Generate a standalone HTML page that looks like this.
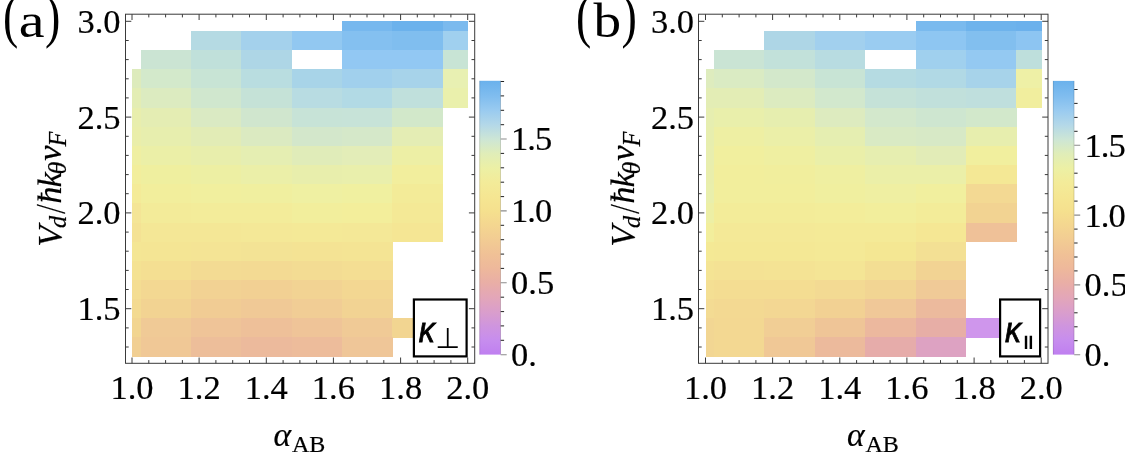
<!DOCTYPE html>
<html><head><meta charset="utf-8"><title>Figure</title>
<style>html,body{margin:0;padding:0;background:#fff}svg{display:block}text{font-family:"Liberation Serif","DejaVu Serif",serif;fill:#000}.tw{stroke:#000;stroke-width:0.2px}.it{font-style:italic}.sans{font-family:"DejaVu Sans","Liberation Sans",sans-serif}</style>
</head><body>
<svg width="1125" height="454" viewBox="0 0 1125 454">
<defs><linearGradient id="cb" x1="0" y1="1" x2="0" y2="0">
<stop offset="0.0000" stop-color="rgb(191,127,240)"/>
<stop offset="0.0524" stop-color="rgb(199,141,238)"/>
<stop offset="0.1048" stop-color="rgb(207,149,222)"/>
<stop offset="0.1572" stop-color="rgb(218,158,203)"/>
<stop offset="0.2096" stop-color="rgb(227,166,184)"/>
<stop offset="0.2621" stop-color="rgb(233,174,166)"/>
<stop offset="0.3145" stop-color="rgb(238,184,155)"/>
<stop offset="0.3669" stop-color="rgb(240,193,150)"/>
<stop offset="0.4193" stop-color="rgb(242,204,147)"/>
<stop offset="0.4717" stop-color="rgb(244,214,144)"/>
<stop offset="0.5241" stop-color="rgb(245,224,142)"/>
<stop offset="0.5765" stop-color="rgb(245,230,146)"/>
<stop offset="0.6289" stop-color="rgb(243,235,153)"/>
<stop offset="0.6813" stop-color="rgb(236,240,165)"/>
<stop offset="0.7338" stop-color="rgb(224,237,184)"/>
<stop offset="0.7862" stop-color="rgb(205,230,213)"/>
<stop offset="0.8386" stop-color="rgb(180,216,232)"/>
<stop offset="0.8910" stop-color="rgb(154,203,240)"/>
<stop offset="0.9434" stop-color="rgb(128,189,239)"/>
<stop offset="1.0000" stop-color="rgb(106,177,236)"/>
</linearGradient></defs>
<rect x="0" y="0" width="1125" height="454" fill="#fff"/>
<g transform="translate(0.0,0)">
<g shape-rendering="crispEdges">
<rect x="342.0" y="21.3" width="50.6" height="9.9" fill="#77B8EE"/>
<rect x="392.3" y="21.3" width="50.7" height="9.9" fill="#6CB2EC"/>
<rect x="442.7" y="21.3" width="25.5" height="9.9" fill="#7BBAEE"/>
<rect x="190.9" y="30.9" width="50.7" height="19.5" fill="#B5DAE3"/>
<rect x="241.3" y="30.9" width="50.6" height="19.5" fill="#A4D1EC"/>
<rect x="291.6" y="30.9" width="50.7" height="19.5" fill="#92C8F1"/>
<rect x="342.0" y="30.9" width="50.6" height="19.5" fill="#84C0F0"/>
<rect x="392.3" y="30.9" width="50.7" height="19.5" fill="#80BEEF"/>
<rect x="442.7" y="30.9" width="25.5" height="19.5" fill="#A0D0EF"/>
<rect x="140.8" y="50.0" width="50.4" height="19.5" fill="#CBE4D3"/>
<rect x="190.9" y="50.0" width="50.7" height="19.5" fill="#C0E0DA"/>
<rect x="241.3" y="50.0" width="50.6" height="19.5" fill="#AED6E6"/>
<rect x="342.0" y="50.0" width="50.6" height="19.5" fill="#92C8F3"/>
<rect x="392.3" y="50.0" width="50.7" height="19.5" fill="#92C8F3"/>
<rect x="442.7" y="50.0" width="25.5" height="19.5" fill="#C8E4D5"/>
<rect x="132.0" y="69.2" width="9.1" height="19.5" fill="#DDEBBC"/>
<rect x="140.8" y="69.2" width="50.4" height="19.5" fill="#D3E9CB"/>
<rect x="190.9" y="69.2" width="50.7" height="19.5" fill="#C8E4D5"/>
<rect x="241.3" y="69.2" width="50.6" height="19.5" fill="#B9DDE0"/>
<rect x="291.6" y="69.2" width="50.7" height="19.5" fill="#A8D4E8"/>
<rect x="342.0" y="69.2" width="50.6" height="19.5" fill="#A1D0ED"/>
<rect x="392.3" y="69.2" width="50.7" height="19.5" fill="#A7D3EA"/>
<rect x="442.7" y="69.2" width="25.5" height="19.5" fill="#E8F0B2"/>
<rect x="132.0" y="88.4" width="9.1" height="19.5" fill="#E3EDB4"/>
<rect x="140.8" y="88.4" width="50.4" height="19.5" fill="#DCEBC0"/>
<rect x="190.9" y="88.4" width="50.7" height="19.5" fill="#D0E7CE"/>
<rect x="241.3" y="88.4" width="50.6" height="19.5" fill="#C5E2D7"/>
<rect x="291.6" y="88.4" width="50.7" height="19.5" fill="#B8DCE2"/>
<rect x="342.0" y="88.4" width="50.6" height="19.5" fill="#B2DAE5"/>
<rect x="392.3" y="88.4" width="50.7" height="19.5" fill="#C0E0DC"/>
<rect x="442.7" y="88.4" width="25.5" height="19.5" fill="#EAF0AC"/>
<rect x="132.0" y="107.5" width="9.1" height="19.5" fill="#E8EEAD"/>
<rect x="140.8" y="107.5" width="50.4" height="19.5" fill="#E4EDB3"/>
<rect x="190.9" y="107.5" width="50.7" height="19.5" fill="#DAEAC3"/>
<rect x="241.3" y="107.5" width="50.6" height="19.5" fill="#D0E6CE"/>
<rect x="291.6" y="107.5" width="50.7" height="19.5" fill="#C7E3D7"/>
<rect x="342.0" y="107.5" width="50.6" height="19.5" fill="#C7E3D8"/>
<rect x="392.3" y="107.5" width="50.7" height="19.5" fill="#D2E8CA"/>
<rect x="132.0" y="126.7" width="9.1" height="19.5" fill="#EAEEAA"/>
<rect x="140.8" y="126.7" width="50.4" height="19.5" fill="#E7EEAE"/>
<rect x="190.9" y="126.7" width="50.7" height="19.5" fill="#E2ECB6"/>
<rect x="241.3" y="126.7" width="50.6" height="19.5" fill="#DBEAC1"/>
<rect x="291.6" y="126.7" width="50.7" height="19.5" fill="#D3E7CB"/>
<rect x="342.0" y="126.7" width="50.6" height="19.5" fill="#D5E8C9"/>
<rect x="392.3" y="126.7" width="50.7" height="19.5" fill="#E4EDB4"/>
<rect x="132.0" y="145.8" width="9.1" height="19.5" fill="#EFEFA2"/>
<rect x="140.8" y="145.8" width="50.4" height="19.5" fill="#EBEFA7"/>
<rect x="190.9" y="145.8" width="50.7" height="19.5" fill="#E8EEAC"/>
<rect x="241.3" y="145.8" width="50.6" height="19.5" fill="#E5EEB2"/>
<rect x="291.6" y="145.8" width="50.7" height="19.5" fill="#E0ECB9"/>
<rect x="342.0" y="145.8" width="50.6" height="19.5" fill="#E3EDB8"/>
<rect x="392.3" y="145.8" width="50.7" height="19.5" fill="#EDEFA5"/>
<rect x="132.0" y="165.0" width="9.1" height="19.5" fill="#F2EE9C"/>
<rect x="140.8" y="165.0" width="50.4" height="19.5" fill="#EFEF9F"/>
<rect x="190.9" y="165.0" width="50.7" height="19.5" fill="#EDEFA3"/>
<rect x="241.3" y="165.0" width="50.6" height="19.5" fill="#EBEFA8"/>
<rect x="291.6" y="165.0" width="50.7" height="19.5" fill="#E8EEAC"/>
<rect x="342.0" y="165.0" width="50.6" height="19.5" fill="#E9EFAC"/>
<rect x="392.3" y="165.0" width="50.7" height="19.5" fill="#F2EE9D"/>
<rect x="132.0" y="184.2" width="9.1" height="19.5" fill="#F4EB98"/>
<rect x="140.8" y="184.2" width="50.4" height="19.5" fill="#F2EE9C"/>
<rect x="190.9" y="184.2" width="50.7" height="19.5" fill="#F1EF9E"/>
<rect x="241.3" y="184.2" width="50.6" height="19.5" fill="#F0EF9F"/>
<rect x="291.6" y="184.2" width="50.7" height="19.5" fill="#EFF0A2"/>
<rect x="342.0" y="184.2" width="50.6" height="19.5" fill="#F0F0A0"/>
<rect x="392.3" y="184.2" width="50.7" height="19.5" fill="#F3EB98"/>
<rect x="132.0" y="203.3" width="9.1" height="19.5" fill="#F4E596"/>
<rect x="140.8" y="203.3" width="50.4" height="19.5" fill="#F3EB99"/>
<rect x="190.9" y="203.3" width="50.7" height="19.5" fill="#F3EC9A"/>
<rect x="241.3" y="203.3" width="50.6" height="19.5" fill="#F3EC9A"/>
<rect x="291.6" y="203.3" width="50.7" height="19.5" fill="#F2EE9C"/>
<rect x="342.0" y="203.3" width="50.6" height="19.5" fill="#F3EE9B"/>
<rect x="392.3" y="203.3" width="50.7" height="19.5" fill="#F4E996"/>
<rect x="132.0" y="222.5" width="9.1" height="19.5" fill="#F4E294"/>
<rect x="140.8" y="222.5" width="50.4" height="19.5" fill="#F4E796"/>
<rect x="190.9" y="222.5" width="50.7" height="19.5" fill="#F4E796"/>
<rect x="241.3" y="222.5" width="50.6" height="19.5" fill="#F4E897"/>
<rect x="291.6" y="222.5" width="50.7" height="19.5" fill="#F4E997"/>
<rect x="342.0" y="222.5" width="50.6" height="19.5" fill="#F4E897"/>
<rect x="392.3" y="222.5" width="50.7" height="19.5" fill="#F5E694"/>
<rect x="132.0" y="241.6" width="9.1" height="19.5" fill="#F4E694"/>
<rect x="140.8" y="241.6" width="50.4" height="19.5" fill="#F4E594"/>
<rect x="190.9" y="241.6" width="50.7" height="19.5" fill="#F4E495"/>
<rect x="241.3" y="241.6" width="50.6" height="19.5" fill="#F3E395"/>
<rect x="291.6" y="241.6" width="50.7" height="19.5" fill="#F4E394"/>
<rect x="342.0" y="241.6" width="50.6" height="19.5" fill="#F4E494"/>
<rect x="132.0" y="260.8" width="9.1" height="19.5" fill="#F4E292"/>
<rect x="140.8" y="260.8" width="50.4" height="19.5" fill="#F4DF92"/>
<rect x="190.9" y="260.8" width="50.7" height="19.5" fill="#F3DB93"/>
<rect x="241.3" y="260.8" width="50.6" height="19.5" fill="#F3DA93"/>
<rect x="291.6" y="260.8" width="50.7" height="19.5" fill="#F3DC93"/>
<rect x="342.0" y="260.8" width="50.6" height="19.5" fill="#F4DE93"/>
<rect x="132.0" y="280.0" width="9.1" height="19.5" fill="#F4DD92"/>
<rect x="140.8" y="280.0" width="50.4" height="19.5" fill="#F3D892"/>
<rect x="190.9" y="280.0" width="50.7" height="19.5" fill="#F2D293"/>
<rect x="241.3" y="280.0" width="50.6" height="19.5" fill="#F2D093"/>
<rect x="291.6" y="280.0" width="50.7" height="19.5" fill="#F2D393"/>
<rect x="342.0" y="280.0" width="50.6" height="19.5" fill="#F3D792"/>
<rect x="132.0" y="299.1" width="9.1" height="19.5" fill="#F3DA91"/>
<rect x="140.8" y="299.1" width="50.4" height="19.5" fill="#F2D392"/>
<rect x="190.9" y="299.1" width="50.7" height="19.5" fill="#F1CC94"/>
<rect x="241.3" y="299.1" width="50.6" height="19.5" fill="#F0C996"/>
<rect x="291.6" y="299.1" width="50.7" height="19.5" fill="#F1CD95"/>
<rect x="342.0" y="299.1" width="50.6" height="19.5" fill="#F2D393"/>
<rect x="132.0" y="318.3" width="9.1" height="19.5" fill="#F2D591"/>
<rect x="140.8" y="318.3" width="50.4" height="19.5" fill="#F0CA96"/>
<rect x="190.9" y="318.3" width="50.7" height="19.5" fill="#EFC498"/>
<rect x="241.3" y="318.3" width="50.6" height="19.5" fill="#EEC099"/>
<rect x="291.6" y="318.3" width="50.7" height="19.5" fill="#EFC498"/>
<rect x="342.0" y="318.3" width="50.6" height="19.5" fill="#F0CA96"/>
<rect x="392.3" y="318.3" width="50.7" height="19.5" fill="#F2D591"/>
<rect x="132.0" y="337.4" width="9.1" height="19.5" fill="#F1CF93"/>
<rect x="140.8" y="337.4" width="50.4" height="19.5" fill="#F0C896"/>
<rect x="190.9" y="337.4" width="50.7" height="19.5" fill="#EDBE9A"/>
<rect x="241.3" y="337.4" width="50.6" height="19.5" fill="#ECBA9C"/>
<rect x="291.6" y="337.4" width="50.7" height="19.5" fill="#EDBC9B"/>
<rect x="342.0" y="337.4" width="50.6" height="19.5" fill="#EFC698"/>
</g>
<rect x="125.5" y="14.2" width="349.2" height="349.1" fill="none" stroke="#3a3a3a" stroke-width="1"/>
<path d="M132.0 363.3v-5.8M132.0 14.2v5.8M148.8 363.3v-3.2M148.8 14.2v3.2M165.6 363.3v-3.2M165.6 14.2v3.2M182.4 363.3v-3.2M182.4 14.2v3.2M199.1 363.3v-5.8M199.1 14.2v5.8M215.9 363.3v-3.2M215.9 14.2v3.2M232.7 363.3v-3.2M232.7 14.2v3.2M249.5 363.3v-3.2M249.5 14.2v3.2M266.3 363.3v-5.8M266.3 14.2v5.8M283.1 363.3v-3.2M283.1 14.2v3.2M299.9 363.3v-3.2M299.9 14.2v3.2M316.6 363.3v-3.2M316.6 14.2v3.2M333.4 363.3v-5.8M333.4 14.2v5.8M350.2 363.3v-3.2M350.2 14.2v3.2M367.0 363.3v-3.2M367.0 14.2v3.2M383.8 363.3v-3.2M383.8 14.2v3.2M400.6 363.3v-5.8M400.6 14.2v5.8M417.3 363.3v-3.2M417.3 14.2v3.2M434.1 363.3v-3.2M434.1 14.2v3.2M450.9 363.3v-3.2M450.9 14.2v3.2M467.7 363.3v-5.8M467.7 14.2v5.8M125.5 21.3h5.8M474.7 21.3h-5.8M125.5 40.5h3.2M474.7 40.5h-3.2M125.5 59.6h3.2M474.7 59.6h-3.2M125.5 78.8h3.2M474.7 78.8h-3.2M125.5 97.9h3.2M474.7 97.9h-3.2M125.5 117.1h5.8M474.7 117.1h-5.8M125.5 136.3h3.2M474.7 136.3h-3.2M125.5 155.4h3.2M474.7 155.4h-3.2M125.5 174.6h3.2M474.7 174.6h-3.2M125.5 193.7h3.2M474.7 193.7h-3.2M125.5 212.9h5.8M474.7 212.9h-5.8M125.5 232.1h3.2M474.7 232.1h-3.2M125.5 251.2h3.2M474.7 251.2h-3.2M125.5 270.4h3.2M474.7 270.4h-3.2M125.5 289.5h3.2M474.7 289.5h-3.2M125.5 308.7h5.8M474.7 308.7h-5.8M125.5 327.9h3.2M474.7 327.9h-3.2M125.5 347.0h3.2M474.7 347.0h-3.2" stroke="#3a3a3a" stroke-width="1" fill="none"/>
<text x="132.0" y="398.5" font-size="34.5" class="tw" text-anchor="middle">1.0</text>
<text x="199.1" y="398.5" font-size="34.5" class="tw" text-anchor="middle">1.2</text>
<text x="266.3" y="398.5" font-size="34.5" class="tw" text-anchor="middle">1.4</text>
<text x="333.4" y="398.5" font-size="34.5" class="tw" text-anchor="middle">1.6</text>
<text x="400.6" y="398.5" font-size="34.5" class="tw" text-anchor="middle">1.8</text>
<text x="467.7" y="398.5" font-size="34.5" class="tw" text-anchor="middle">2.0</text>
<text x="120.5" y="32.8" font-size="34.5" class="tw" text-anchor="end">3.0</text>
<text x="120.5" y="128.6" font-size="34.5" class="tw" text-anchor="end">2.5</text>
<text x="120.5" y="224.4" font-size="34.5" class="tw" text-anchor="end">2.0</text>
<text x="120.5" y="320.2" font-size="34.5" class="tw" text-anchor="end">1.5</text>
<text x="273.5" y="446" font-size="33.5" class="it tw">α<tspan font-size="24" font-style="normal" dy="6" dx="0.8">AB</tspan></text>
<text transform="translate(60.8,245.5) rotate(-90)" font-size="34.5" class="it tw"><tspan x="-1.3" y="0">V</tspan><tspan x="17.6" y="5.3" font-size="24.3">d</tspan><tspan x="41.7" y="0">ħ</tspan><tspan x="58" y="0">k</tspan><tspan x="70.9" y="5.3" font-size="26">θ</tspan><tspan x="84.8" y="0">v</tspan><tspan x="99.1" y="5.3" font-size="24.3">F</tspan></text>
<text transform="translate(60.8,245.5) rotate(-90) translate(32.8,4.6) scale(0.69,1.2)" font-size="34.5" class="it tw">/</text>
<rect x="413.9" y="299.5" width="52.7" height="56.9" fill="#fff" stroke="#000" stroke-width="2.2"/>
<text transform="translate(418.7,341.8) scale(0.91,1)" font-size="35.3" style="font-family:'Liberation Sans','DejaVu Sans',sans-serif;font-style:italic" stroke="#000" stroke-width="0.8">κ</text>
<text x="435.6" y="348.3" font-size="28.6" class="sans">⊥</text>
<rect x="479.5" y="80.8" width="21.2" height="273.8" fill="url(#cb)"/>
<path d="M500.5 80.8V354.6M479.7 80.8V354.6" stroke="#000" stroke-opacity="0.18" stroke-width="0.8" fill="none"/>
<path d="M500.7 340.3h3.4M500.7 325.9h3.4M500.7 311.6h3.4M500.7 297.2h3.4M500.7 268.4h3.4M500.7 254.1h3.4M500.7 239.7h3.4M500.7 225.3h3.4M500.7 196.6h3.4M500.7 182.2h3.4M500.7 167.8h3.4M500.7 153.4h3.4M500.7 124.7h3.4M500.7 110.3h3.4M500.7 95.9h3.4M500.7 81.5h3.4" stroke="#222" stroke-width="1" fill="none"/>
<path d="M500.7 354.7h6M500.7 282.8h6M500.7 210.9h6M500.7 139.0h6" stroke="#8c8c8c" stroke-width="1.1" fill="none"/>
<text x="511" y="366.1" font-size="34.5" class="tw">0.</text>
<text x="511" y="294.2" font-size="34.5" class="tw">0.5</text>
<text x="511" y="222.3" font-size="34.5" class="tw" letter-spacing="-0.9">1.0</text>
<text x="511" y="150.4" font-size="34.5" class="tw" letter-spacing="-0.9">1.5</text>
<text transform="translate(2.9,36.2) scale(0.77,1)" font-size="59.4">(</text>
<text transform="translate(18.7,36.5) scale(1.2,1)" font-size="48.4">a</text>
<text transform="translate(44.9,36.2) scale(0.777,1)" font-size="59.4">)</text>
</g>
<g transform="translate(573.5,0)">
<g shape-rendering="crispEdges">
<rect x="342.0" y="21.3" width="50.6" height="9.9" fill="#7ABAEE"/>
<rect x="392.3" y="21.3" width="50.7" height="9.9" fill="#6EB3EC"/>
<rect x="442.7" y="21.3" width="25.5" height="9.9" fill="#6CB1EC"/>
<rect x="190.9" y="30.9" width="50.7" height="19.5" fill="#AED6E6"/>
<rect x="241.3" y="30.9" width="50.6" height="19.5" fill="#A2D0EE"/>
<rect x="291.6" y="30.9" width="50.7" height="19.5" fill="#9ACCF1"/>
<rect x="342.0" y="30.9" width="50.6" height="19.5" fill="#8EC6F2"/>
<rect x="392.3" y="30.9" width="50.7" height="19.5" fill="#82BFEF"/>
<rect x="442.7" y="30.9" width="25.5" height="19.5" fill="#8DC5F2"/>
<rect x="140.8" y="50.0" width="50.4" height="19.5" fill="#CAE4D4"/>
<rect x="190.9" y="50.0" width="50.7" height="19.5" fill="#C2E1DA"/>
<rect x="241.3" y="50.0" width="50.6" height="19.5" fill="#B8DCE1"/>
<rect x="342.0" y="50.0" width="50.6" height="19.5" fill="#A0D0EE"/>
<rect x="392.3" y="50.0" width="50.7" height="19.5" fill="#94C9F2"/>
<rect x="442.7" y="50.0" width="25.5" height="19.5" fill="#BEDFDC"/>
<rect x="132.0" y="69.2" width="9.1" height="19.5" fill="#DEECBE"/>
<rect x="140.8" y="69.2" width="50.4" height="19.5" fill="#DAEBC3"/>
<rect x="190.9" y="69.2" width="50.7" height="19.5" fill="#D3E8CB"/>
<rect x="241.3" y="69.2" width="50.6" height="19.5" fill="#C8E4D5"/>
<rect x="291.6" y="69.2" width="50.7" height="19.5" fill="#B5DBE2"/>
<rect x="342.0" y="69.2" width="50.6" height="19.5" fill="#B1D9E5"/>
<rect x="392.3" y="69.2" width="50.7" height="19.5" fill="#A7D3EA"/>
<rect x="442.7" y="69.2" width="25.5" height="19.5" fill="#EEF0A6"/>
<rect x="132.0" y="88.4" width="9.1" height="19.5" fill="#E3EDB5"/>
<rect x="140.8" y="88.4" width="50.4" height="19.5" fill="#E3EDB5"/>
<rect x="190.9" y="88.4" width="50.7" height="19.5" fill="#DCEBC0"/>
<rect x="241.3" y="88.4" width="50.6" height="19.5" fill="#D2E8CD"/>
<rect x="291.6" y="88.4" width="50.7" height="19.5" fill="#C5E2D8"/>
<rect x="342.0" y="88.4" width="50.6" height="19.5" fill="#C1E0DB"/>
<rect x="392.3" y="88.4" width="50.7" height="19.5" fill="#BFDFDD"/>
<rect x="442.7" y="88.4" width="25.5" height="19.5" fill="#F1EE9E"/>
<rect x="132.0" y="107.5" width="9.1" height="19.5" fill="#E6EEB0"/>
<rect x="140.8" y="107.5" width="50.4" height="19.5" fill="#E9EFAB"/>
<rect x="190.9" y="107.5" width="50.7" height="19.5" fill="#E6EEAF"/>
<rect x="241.3" y="107.5" width="50.6" height="19.5" fill="#DDEBBF"/>
<rect x="291.6" y="107.5" width="50.7" height="19.5" fill="#D3E8CC"/>
<rect x="342.0" y="107.5" width="50.6" height="19.5" fill="#CEE6D0"/>
<rect x="392.3" y="107.5" width="50.7" height="19.5" fill="#D2E8CB"/>
<rect x="132.0" y="126.7" width="9.1" height="19.5" fill="#E7EEAE"/>
<rect x="140.8" y="126.7" width="50.4" height="19.5" fill="#EEEFA3"/>
<rect x="190.9" y="126.7" width="50.7" height="19.5" fill="#EBEFA8"/>
<rect x="241.3" y="126.7" width="50.6" height="19.5" fill="#E5EEB1"/>
<rect x="291.6" y="126.7" width="50.7" height="19.5" fill="#D9EAC4"/>
<rect x="342.0" y="126.7" width="50.6" height="19.5" fill="#D7E9C6"/>
<rect x="392.3" y="126.7" width="50.7" height="19.5" fill="#E7EEAE"/>
<rect x="132.0" y="145.8" width="9.1" height="19.5" fill="#E8EEAE"/>
<rect x="140.8" y="145.8" width="50.4" height="19.5" fill="#F1EF9E"/>
<rect x="190.9" y="145.8" width="50.7" height="19.5" fill="#EFEFA1"/>
<rect x="241.3" y="145.8" width="50.6" height="19.5" fill="#EAEFA9"/>
<rect x="291.6" y="145.8" width="50.7" height="19.5" fill="#E6EEB0"/>
<rect x="342.0" y="145.8" width="50.6" height="19.5" fill="#E2ECB7"/>
<rect x="392.3" y="145.8" width="50.7" height="19.5" fill="#F1EF9E"/>
<rect x="132.0" y="165.0" width="9.1" height="19.5" fill="#E9EEAC"/>
<rect x="140.8" y="165.0" width="50.4" height="19.5" fill="#F2EE9C"/>
<rect x="190.9" y="165.0" width="50.7" height="19.5" fill="#F1EE9D"/>
<rect x="241.3" y="165.0" width="50.6" height="19.5" fill="#EFEFA1"/>
<rect x="291.6" y="165.0" width="50.7" height="19.5" fill="#EBEFA8"/>
<rect x="342.0" y="165.0" width="50.6" height="19.5" fill="#EBEFA8"/>
<rect x="392.3" y="165.0" width="50.7" height="19.5" fill="#F4E895"/>
<rect x="132.0" y="184.2" width="9.1" height="19.5" fill="#E9EFAC"/>
<rect x="140.8" y="184.2" width="50.4" height="19.5" fill="#F2EE9C"/>
<rect x="190.9" y="184.2" width="50.7" height="19.5" fill="#F2EE9C"/>
<rect x="241.3" y="184.2" width="50.6" height="19.5" fill="#F0EF9F"/>
<rect x="291.6" y="184.2" width="50.7" height="19.5" fill="#EFEFA2"/>
<rect x="342.0" y="184.2" width="50.6" height="19.5" fill="#F1EF9E"/>
<rect x="392.3" y="184.2" width="50.7" height="19.5" fill="#F3D993"/>
<rect x="132.0" y="203.3" width="9.1" height="19.5" fill="#EDEFA5"/>
<rect x="140.8" y="203.3" width="50.4" height="19.5" fill="#F3EC99"/>
<rect x="190.9" y="203.3" width="50.7" height="19.5" fill="#F3EC99"/>
<rect x="241.3" y="203.3" width="50.6" height="19.5" fill="#F3ED9A"/>
<rect x="291.6" y="203.3" width="50.7" height="19.5" fill="#F2EE9C"/>
<rect x="342.0" y="203.3" width="50.6" height="19.5" fill="#F3EC99"/>
<rect x="392.3" y="203.3" width="50.7" height="19.5" fill="#F2D392"/>
<rect x="132.0" y="222.5" width="9.1" height="19.5" fill="#F2EE9C"/>
<rect x="140.8" y="222.5" width="50.4" height="19.5" fill="#F4E997"/>
<rect x="190.9" y="222.5" width="50.7" height="19.5" fill="#F4E997"/>
<rect x="241.3" y="222.5" width="50.6" height="19.5" fill="#F4EA97"/>
<rect x="291.6" y="222.5" width="50.7" height="19.5" fill="#F4EA97"/>
<rect x="342.0" y="222.5" width="50.6" height="19.5" fill="#F5E794"/>
<rect x="392.3" y="222.5" width="50.7" height="19.5" fill="#EFC198"/>
<rect x="132.0" y="241.6" width="9.1" height="19.5" fill="#F4E995"/>
<rect x="140.8" y="241.6" width="50.4" height="19.5" fill="#F4E895"/>
<rect x="190.9" y="241.6" width="50.7" height="19.5" fill="#F4E895"/>
<rect x="241.3" y="241.6" width="50.6" height="19.5" fill="#F4E996"/>
<rect x="291.6" y="241.6" width="50.7" height="19.5" fill="#F4E793"/>
<rect x="342.0" y="241.6" width="50.6" height="19.5" fill="#F3E094"/>
<rect x="132.0" y="260.8" width="9.1" height="19.5" fill="#F4E494"/>
<rect x="140.8" y="260.8" width="50.4" height="19.5" fill="#F4E294"/>
<rect x="190.9" y="260.8" width="50.7" height="19.5" fill="#F4E394"/>
<rect x="241.3" y="260.8" width="50.6" height="19.5" fill="#F4E595"/>
<rect x="291.6" y="260.8" width="50.7" height="19.5" fill="#F3DE93"/>
<rect x="342.0" y="260.8" width="50.6" height="19.5" fill="#F2D393"/>
<rect x="132.0" y="280.0" width="9.1" height="19.5" fill="#F4DF93"/>
<rect x="140.8" y="280.0" width="50.4" height="19.5" fill="#F4DD92"/>
<rect x="190.9" y="280.0" width="50.7" height="19.5" fill="#F4DD92"/>
<rect x="241.3" y="280.0" width="50.6" height="19.5" fill="#F3DA93"/>
<rect x="291.6" y="280.0" width="50.7" height="19.5" fill="#F2D593"/>
<rect x="342.0" y="280.0" width="50.6" height="19.5" fill="#F0CA97"/>
<rect x="132.0" y="299.1" width="9.1" height="19.5" fill="#F3DB93"/>
<rect x="140.8" y="299.1" width="50.4" height="19.5" fill="#F3D992"/>
<rect x="190.9" y="299.1" width="50.7" height="19.5" fill="#F3D793"/>
<rect x="241.3" y="299.1" width="50.6" height="19.5" fill="#F2D193"/>
<rect x="291.6" y="299.1" width="50.7" height="19.5" fill="#F0C898"/>
<rect x="342.0" y="299.1" width="50.6" height="19.5" fill="#ECBA9D"/>
<rect x="132.0" y="318.3" width="9.1" height="19.5" fill="#F2D693"/>
<rect x="140.8" y="318.3" width="50.4" height="19.5" fill="#F3D892"/>
<rect x="190.9" y="318.3" width="50.7" height="19.5" fill="#F1CE95"/>
<rect x="241.3" y="318.3" width="50.6" height="19.5" fill="#EFC597"/>
<rect x="291.6" y="318.3" width="50.7" height="19.5" fill="#ECB89E"/>
<rect x="342.0" y="318.3" width="50.6" height="19.5" fill="#E7AEA6"/>
<rect x="392.3" y="318.3" width="50.7" height="19.5" fill="#CF96EC"/>
<rect x="132.0" y="337.4" width="9.1" height="19.5" fill="#F2D693"/>
<rect x="140.8" y="337.4" width="50.4" height="19.5" fill="#F3D892"/>
<rect x="190.9" y="337.4" width="50.7" height="19.5" fill="#F0C896"/>
<rect x="241.3" y="337.4" width="50.6" height="19.5" fill="#ECBA9C"/>
<rect x="291.6" y="337.4" width="50.7" height="19.5" fill="#E6ACAA"/>
<rect x="342.0" y="337.4" width="50.6" height="19.5" fill="#DDA2C2"/>
</g>
<rect x="125.0" y="14.2" width="349.5" height="349.1" fill="none" stroke="#3a3a3a" stroke-width="1"/>
<path d="M132.0 363.3v-5.8M132.0 14.2v5.8M148.8 363.3v-3.2M148.8 14.2v3.2M165.6 363.3v-3.2M165.6 14.2v3.2M182.4 363.3v-3.2M182.4 14.2v3.2M199.1 363.3v-5.8M199.1 14.2v5.8M215.9 363.3v-3.2M215.9 14.2v3.2M232.7 363.3v-3.2M232.7 14.2v3.2M249.5 363.3v-3.2M249.5 14.2v3.2M266.3 363.3v-5.8M266.3 14.2v5.8M283.1 363.3v-3.2M283.1 14.2v3.2M299.9 363.3v-3.2M299.9 14.2v3.2M316.6 363.3v-3.2M316.6 14.2v3.2M333.4 363.3v-5.8M333.4 14.2v5.8M350.2 363.3v-3.2M350.2 14.2v3.2M367.0 363.3v-3.2M367.0 14.2v3.2M383.8 363.3v-3.2M383.8 14.2v3.2M400.6 363.3v-5.8M400.6 14.2v5.8M417.3 363.3v-3.2M417.3 14.2v3.2M434.1 363.3v-3.2M434.1 14.2v3.2M450.9 363.3v-3.2M450.9 14.2v3.2M467.7 363.3v-5.8M467.7 14.2v5.8M125.0 21.3h5.8M474.5 21.3h-5.8M125.0 40.5h3.2M474.5 40.5h-3.2M125.0 59.6h3.2M474.5 59.6h-3.2M125.0 78.8h3.2M474.5 78.8h-3.2M125.0 97.9h3.2M474.5 97.9h-3.2M125.0 117.1h5.8M474.5 117.1h-5.8M125.0 136.3h3.2M474.5 136.3h-3.2M125.0 155.4h3.2M474.5 155.4h-3.2M125.0 174.6h3.2M474.5 174.6h-3.2M125.0 193.7h3.2M474.5 193.7h-3.2M125.0 212.9h5.8M474.5 212.9h-5.8M125.0 232.1h3.2M474.5 232.1h-3.2M125.0 251.2h3.2M474.5 251.2h-3.2M125.0 270.4h3.2M474.5 270.4h-3.2M125.0 289.5h3.2M474.5 289.5h-3.2M125.0 308.7h5.8M474.5 308.7h-5.8M125.0 327.9h3.2M474.5 327.9h-3.2M125.0 347.0h3.2M474.5 347.0h-3.2" stroke="#3a3a3a" stroke-width="1" fill="none"/>
<text x="132.0" y="398.5" font-size="34.5" class="tw" text-anchor="middle">1.0</text>
<text x="199.1" y="398.5" font-size="34.5" class="tw" text-anchor="middle">1.2</text>
<text x="266.3" y="398.5" font-size="34.5" class="tw" text-anchor="middle">1.4</text>
<text x="333.4" y="398.5" font-size="34.5" class="tw" text-anchor="middle">1.6</text>
<text x="400.6" y="398.5" font-size="34.5" class="tw" text-anchor="middle">1.8</text>
<text x="467.7" y="398.5" font-size="34.5" class="tw" text-anchor="middle">2.0</text>
<text x="120.5" y="32.8" font-size="34.5" class="tw" text-anchor="end">3.0</text>
<text x="120.5" y="128.6" font-size="34.5" class="tw" text-anchor="end">2.5</text>
<text x="120.5" y="224.4" font-size="34.5" class="tw" text-anchor="end">2.0</text>
<text x="120.5" y="320.2" font-size="34.5" class="tw" text-anchor="end">1.5</text>
<text x="273.5" y="446" font-size="33.5" class="it tw">α<tspan font-size="24" font-style="normal" dy="6" dx="0.8">AB</tspan></text>
<text transform="translate(60.8,245.5) rotate(-90)" font-size="34.5" class="it tw"><tspan x="-1.3" y="0">V</tspan><tspan x="17.6" y="5.3" font-size="24.3">d</tspan><tspan x="41.7" y="0">ħ</tspan><tspan x="58" y="0">k</tspan><tspan x="70.9" y="5.3" font-size="26">θ</tspan><tspan x="84.8" y="0">v</tspan><tspan x="99.1" y="5.3" font-size="24.3">F</tspan></text>
<text transform="translate(60.8,245.5) rotate(-90) translate(32.8,4.6) scale(0.69,1.2)" font-size="34.5" class="it tw">/</text>
<rect x="426.6" y="299.5" width="40.0" height="56.9" fill="#fff" stroke="#000" stroke-width="2.2"/>
<text transform="translate(431.4,341.8) scale(0.91,1)" font-size="35.3" style="font-family:'Liberation Sans','DejaVu Sans',sans-serif;font-style:italic" stroke="#000" stroke-width="0.8">κ</text>
<text transform="translate(447.0,345.8) scale(2.3,1)" font-size="13.5" class="sans">∥</text>
<rect x="479.5" y="80.9" width="21.2" height="273.7" fill="url(#cb)"/>
<path d="M500.5 80.9V354.6M479.7 80.9V354.6" stroke="#000" stroke-opacity="0.18" stroke-width="0.8" fill="none"/>
<path d="M500.7 340.7h3.4M500.7 326.8h3.4M500.7 312.8h3.4M500.7 298.9h3.4M500.7 270.9h3.4M500.7 257.0h3.4M500.7 243.0h3.4M500.7 229.1h3.4M500.7 201.1h3.4M500.7 187.2h3.4M500.7 173.2h3.4M500.7 159.3h3.4M500.7 131.3h3.4M500.7 117.4h3.4M500.7 103.4h3.4M500.7 89.5h3.4" stroke="#222" stroke-width="1" fill="none"/>
<path d="M500.7 354.7h6M500.7 284.9h6M500.7 215.1h6M500.7 145.3h6" stroke="#8c8c8c" stroke-width="1.1" fill="none"/>
<text x="511" y="366.1" font-size="34.5" class="tw">0.</text>
<text x="511" y="296.3" font-size="34.5" class="tw">0.5</text>
<text x="511" y="226.5" font-size="34.5" class="tw" letter-spacing="-0.9">1.0</text>
<text x="511" y="156.7" font-size="34.5" class="tw" letter-spacing="-0.9">1.5</text>
<text transform="translate(2.5,36.2) scale(0.77,1)" font-size="59.4">(</text>
<text transform="translate(19.9,36.5) scale(1.115,1)" font-size="49.5">b</text>
<text transform="translate(47.9,36.2) scale(0.777,1)" font-size="59.4">)</text>
</g>
</svg></body></html>
